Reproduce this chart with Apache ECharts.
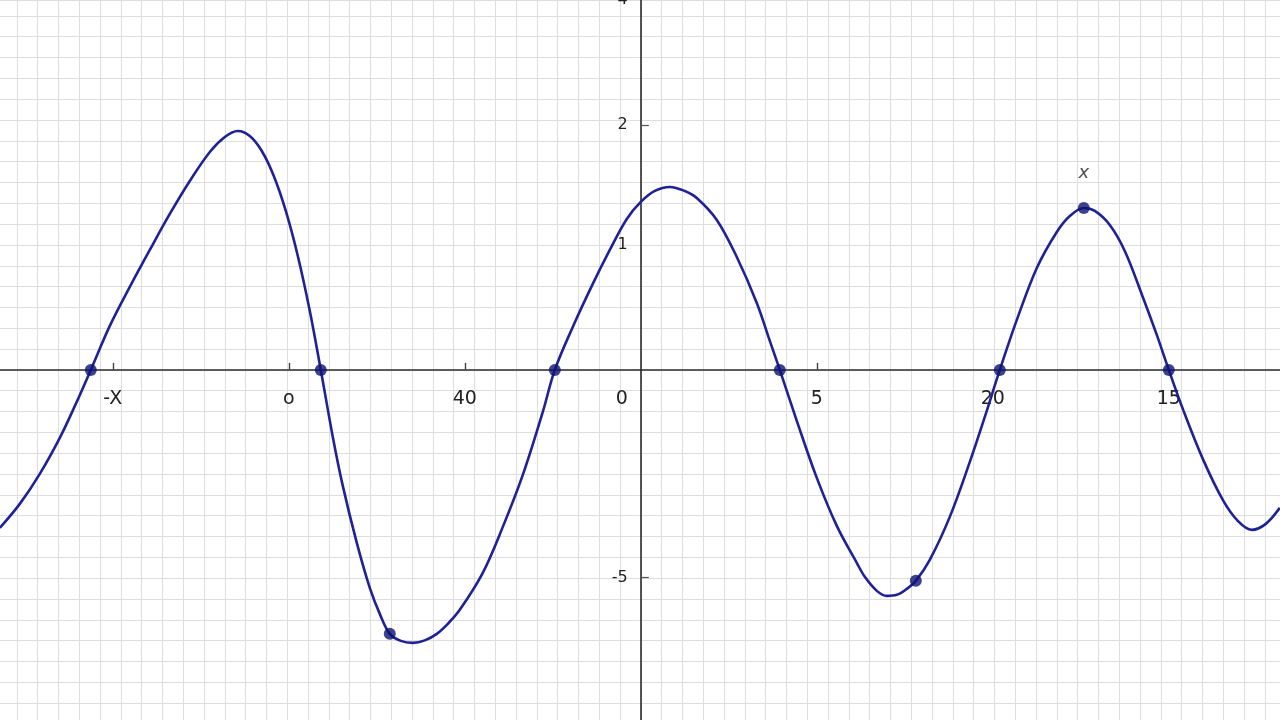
<!DOCTYPE html>
<html>
<head>
<meta charset="utf-8">
<script src="https://cdn.jsdelivr.net/npm/echarts@6/dist/echarts.min.js"></script>
<style>html,body{margin:0;padding:0;background:#fff;}#c{width:1280px;height:720px;}</style>
</head>
<body>
<div id="c"></div>
<script>
// Curve samples
const curveX = [-18.210,-17.642,-17.074,-16.506,-16.051,-15.625,-15.085,-14.517,-13.949,-13.381,-12.813,-12.244,-11.818,-11.449,-11.108,-10.767,-10.426,-10.085,-9.744,-9.403,-9.091,-8.750,-8.466,-8.068,-7.699,-7.415,-7.131,-6.818,-6.477,-6.136,-5.795,-5.483,-5.142,-4.489,-3.920,-3.352,-2.784,-2.443,-1.932,-1.364,-0.881,-0.398,0,0.398,0.824,1.250,1.591,2.159,2.727,3.295,3.665,3.949,4.432,5.000,5.568,6.136,6.364,6.705,6.989,7.273,7.557,7.813,8.210,8.778,9.347,9.773,10.199,10.682,11.250,11.818,12.188,12.585,12.898,13.324,13.750,14.261,14.659,15.000,15.398,15.966,16.534,16.960,17.358,17.756,18.153];
const curveY = [-1.264,-1.072,-0.832,-0.544,-0.272,0,0.352,0.664,0.96,1.248,1.512,1.744,1.864,1.912,1.872,1.752,1.552,1.272,0.912,0.472,0,-0.536,-0.928,-1.384,-1.744,-1.952,-2.112,-2.168,-2.184,-2.164,-2.112,-2.032,-1.92,-1.624,-1.256,-0.84,-0.336,0,0.344,0.688,0.96,1.208,1.344,1.432,1.464,1.432,1.376,1.2,0.904,0.536,0.232,0,-0.408,-0.864,-1.248,-1.544,-1.656,-1.768,-1.808,-1.8,-1.752,-1.688,-1.52,-1.176,-0.736,-0.376,0,0.4,0.816,1.104,1.232,1.296,1.272,1.16,0.952,0.584,0.28,0,-0.312,-0.712,-1.04,-1.208,-1.28,-1.232,-1.104];
// Marked points
const dotX = [-15.625,-9.091,-7.131,-2.443,3.949,7.813,10.199,12.585,15.000];
const dotY = [0,0,-2.112,0,0,-1.688,0,1.296,0];
const dotLabels = ['','','','','','','','x',''];
// Tick labels
const xTickValues = [-15,-10,-5,0,5,10,15];
const xTickLabels = ['-X','o','40','0','5','20','15'];
const xTickMarks = [-15,-10,-5,5];
const yTickValues = [2.96,1.96,1,-1.66];
const yTickLabels = ['4','2','1','-5'];
const yTickMarks = [1.96,-1.66];

const PX_X = 35.2, PX_Y = 125, CELL = 20.8;
const gx = CELL / PX_X;
const xMin = -31 * gx, xMax = xMin + 1284 / PX_X;
const yMin = -17 / 6, yMax = 2.96;
// axes cross at data zero: offsets derived from the scales
const xAxisOffset = yMin * PX_Y;
const yAxisOffset = xMin * PX_X;

const chart = echarts.init(document.getElementById('c'));
chart.setOption({
  backgroundColor: '#ffffff',
  animation: false,
  grid: { left: -4, right: 0, top: 0, bottom: -4, containLabel: false, outerBoundsMode: 'none' },
  xAxis: [
    {
      type: 'value', min: xMin, max: xMax, position: 'bottom', offset: xAxisOffset,
      axisLine: { show: true, onZero: false, lineStyle: { color: '#2a2a2a', width: 1.6 } },
      axisTick: { show: true, customValues: xTickMarks, length: 7, inside: true, lineStyle: { color: '#444', width: 1.4 } },
      axisLabel: {
        show: true, customValues: xTickValues, margin: 20, hideOverlap: false,
        fontFamily: 'DejaVu Sans', fontSize: 19, color: '#222',
        formatter: function (v) {
          const i = xTickValues.findIndex(t => Math.abs(t - v) < 1e-6);
          const s = i >= 0 ? xTickLabels[i] : '';
          return v === 0 ? '{z|' + s + '}' : s;
        },
        rich: { z: { padding: [0, 38, 0, 0], fontFamily: 'DejaVu Sans', fontSize: 19, color: '#222' } }
      },
      splitLine: { show: false }
    },
    {
      type: 'value', min: -31, max: -31 + 1284 / CELL, interval: 1, position: 'top',
      axisLine: { show: false }, axisTick: { show: false }, axisLabel: { show: false },
      splitLine: { show: true, lineStyle: { color: '#dedede', width: 1 } }
    }
  ],
  yAxis: [
    {
      type: 'value', min: yMin, max: yMax, position: 'left', offset: yAxisOffset,
      axisLine: { show: true, onZero: false, lineStyle: { color: '#2a2a2a', width: 1.6 } },
      axisTick: { show: true, customValues: yTickMarks, length: 8, inside: true, lineStyle: { color: '#555', width: 1.2 } },
      axisLabel: {
        show: true, customValues: yTickValues, margin: 13, hideOverlap: false,
        fontFamily: 'DejaVu Sans', fontSize: 16, color: '#222',
        formatter: function (v) {
          const i = yTickValues.findIndex(t => Math.abs(t - v) < 1e-6);
          return i >= 0 ? yTickLabels[i] : '';
        }
      },
      splitLine: { show: false }
    },
    {
      type: 'value', min: -17, max: yMax * 6, interval: 1, position: 'right',
      axisLine: { show: false }, axisTick: { show: false }, axisLabel: { show: false },
      splitLine: { show: true, lineStyle: { color: '#dedede', width: 1 } }
    }
  ],
  series: [
    {
      type: 'line', xAxisIndex: 0, yAxisIndex: 0,
      data: curveX.map((x, i) => [x, curveY[i]]),
      smooth: 0.35, symbol: 'none',
      lineStyle: { color: '#1f2196', width: 2.6 },
      z: 3
    },
    {
      type: 'scatter', xAxisIndex: 0, yAxisIndex: 0,
      data: dotX.map((x, i) => ({
        value: [x, dotY[i]],
        label: dotLabels[i] ? { show: true, formatter: dotLabels[i], position: 'top', distance: 20, fontFamily: 'DejaVu Sans', fontSize: 18, fontStyle: 'italic', color: '#222' } : { show: false }
      })),
      symbol: 'circle', symbolSize: 12,
      itemStyle: { color: '#0c1372' },
      z: 4
    }
  ]
});
</script>
</body>
</html>
